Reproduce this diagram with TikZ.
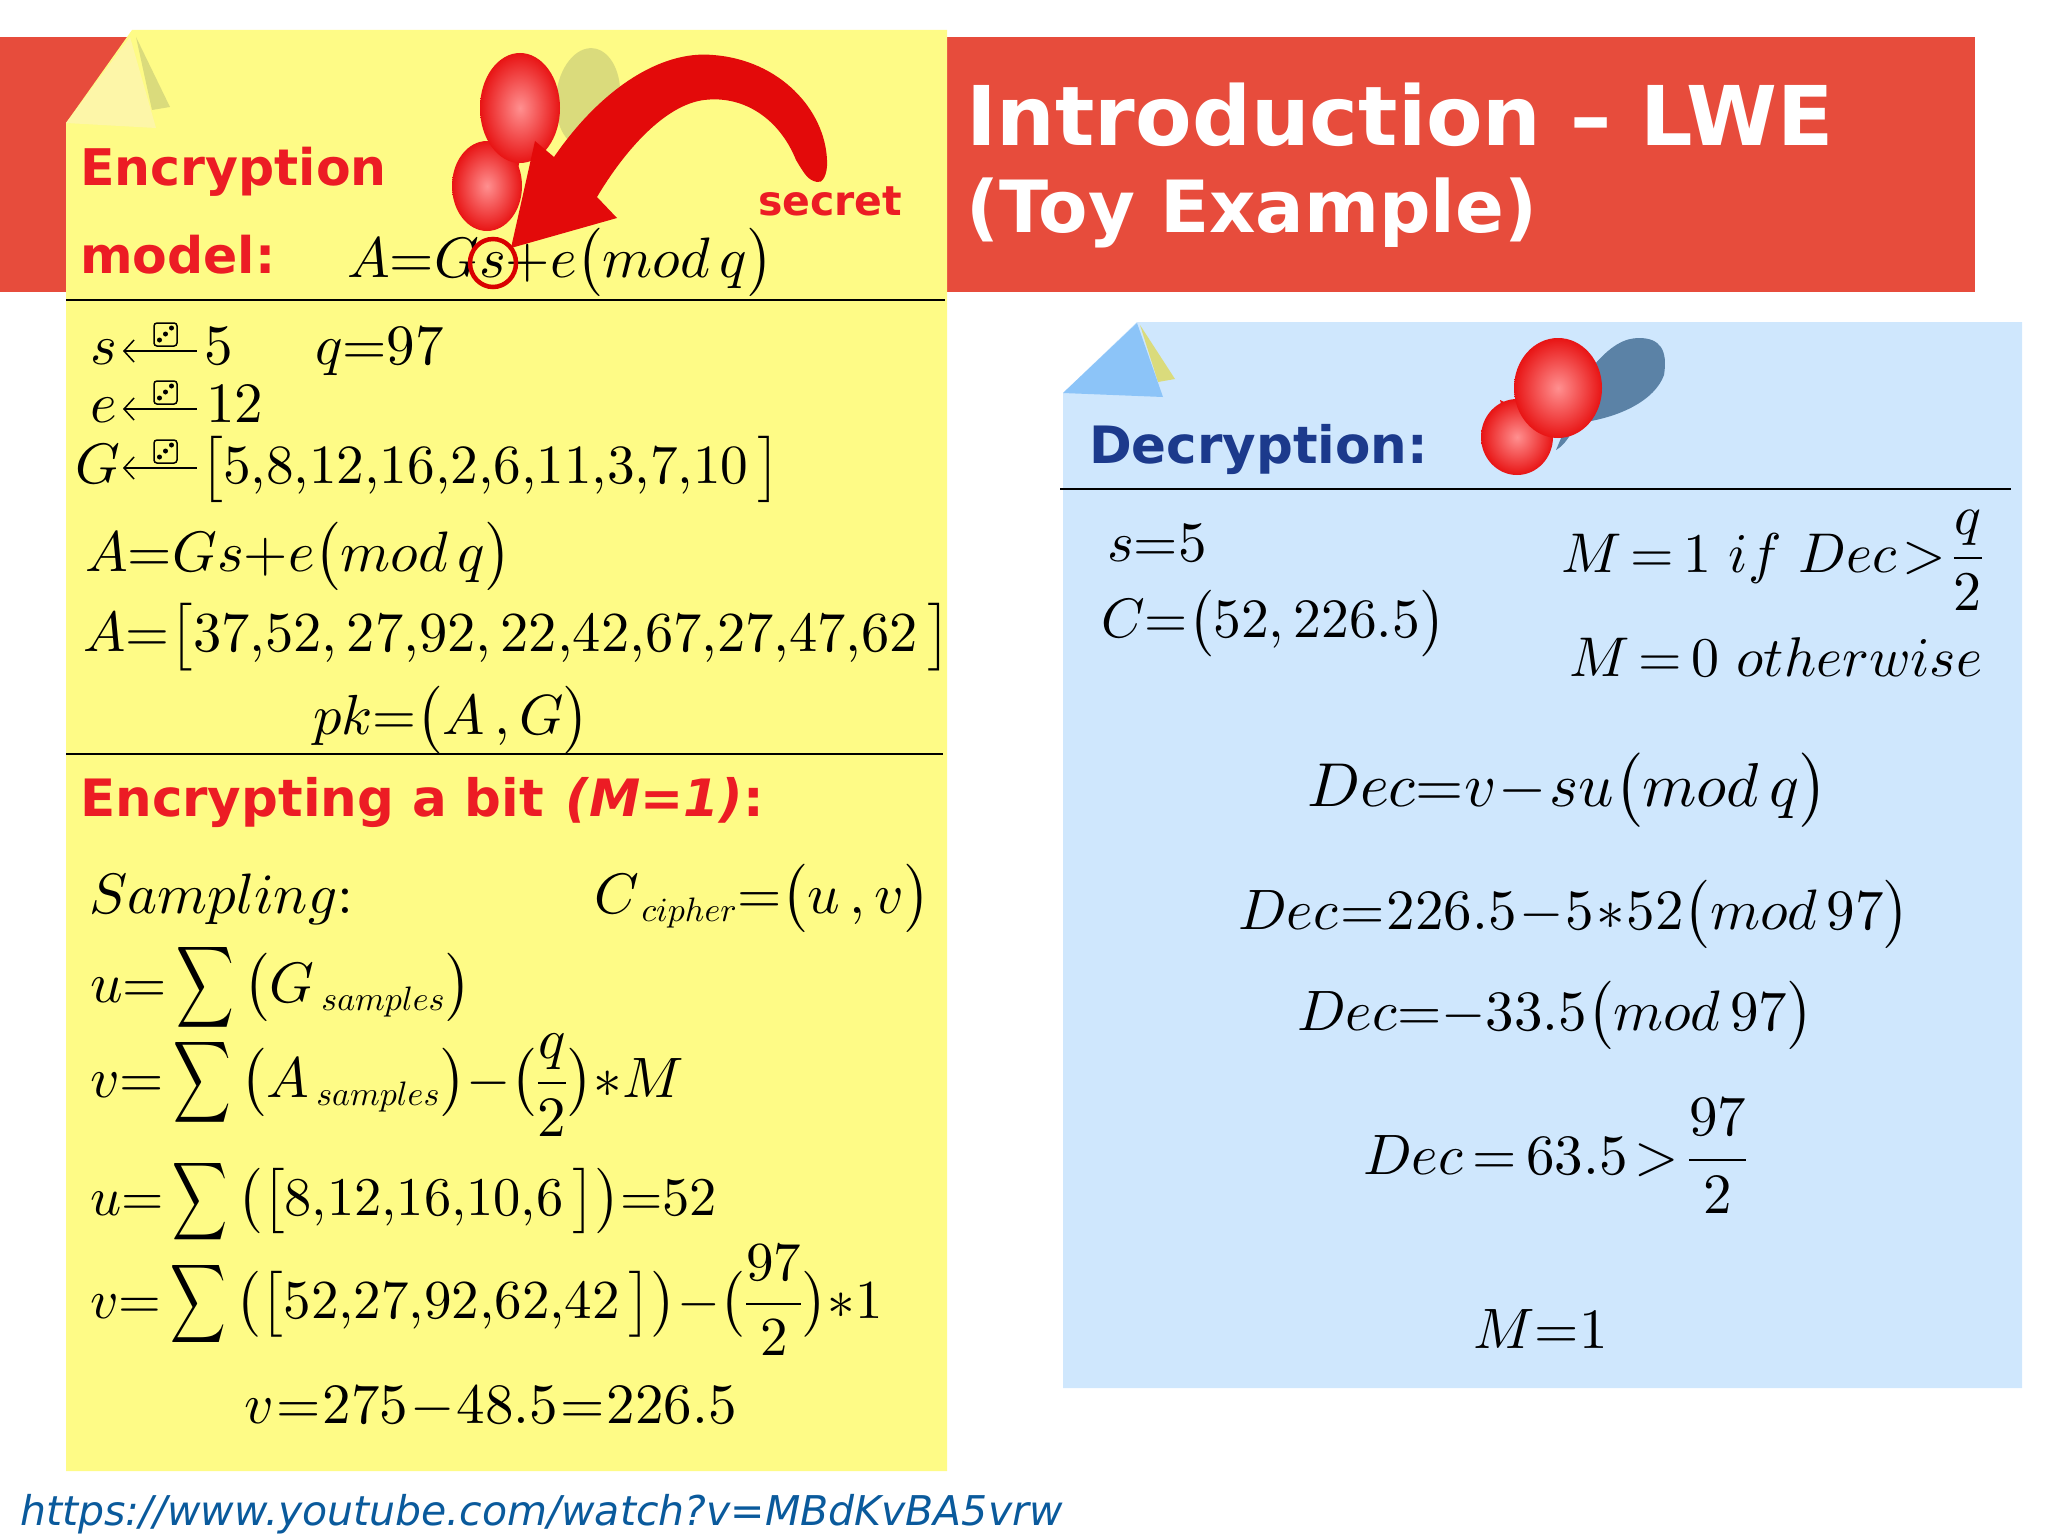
\documentclass[tikz,border=0pt]{standalone}
\usepackage{amsmath}
\usepackage{fix-cm}
\usepackage{fontspec}
\usetikzlibrary{arrows.meta}
\setsansfont{DejaVu Sans}
\DeclareFontShape{OT1}{cmr}{m}{n}{<-> cmr10}{}
\DeclareFontShape{OML}{cmm}{m}{it}{<-> cmmi10}{}
\DeclareFontShape{OMS}{cmsy}{m}{n}{<-> cmsy10}{}
\DeclareFontShape{OMX}{cmex}{m}{n}{<-> cmex10}{}
\definecolor{bannerred}{HTML}{E74C3C}
\definecolor{noteyellow}{HTML}{FEFB86}
\definecolor{foldyellow}{HTML}{FDF6A8}
\definecolor{shadeyellow}{HTML}{DADB7C}
\definecolor{noteblue}{HTML}{CFE7FD}
\definecolor{foldblue}{HTML}{8CC4F8}
\definecolor{shadeblue}{HTML}{5B82A6}
\definecolor{headred}{HTML}{EC1C24}
\definecolor{headblue}{HTML}{1C3A8C}
\definecolor{arrowred}{HTML}{E30A0A}
\definecolor{urlblue}{HTML}{0A5A9C}
\definecolor{blobin}{HTML}{FF9090}
\definecolor{blobout}{HTML}{E81414}
\tikzset{
  eqn/.style={anchor=base west,inner sep=0pt,font=\fontsize{#1}{62}\selectfont},
  eqn/.default=57,
  head/.style={anchor=base west,inner sep=0pt,font=\fontsize{#1}{58}\selectfont\sffamily\bfseries},
  head/.default=50.5,
  titletext/.style={anchor=base west,inner sep=0pt,text=white,font=\fontsize{#1}{90}\selectfont\sffamily\bfseries},
  rule/.style={line width=2.5pt},
  blob/.style={inner color=blobin,outer color=blobout},
}
\newcommand{\bigsum}{\mathop{\scalebox{0.7}[1]{$\displaystyle\sum$}}\mkern3mu}
\newcommand{\subsc}[1]{_{\mkern3mu\scalebox{0.85}{$\scriptstyle #1$}}}
\newcommand{\tg}{\mkern0.7mu}
\begin{document}
\begin{tikzpicture}[x=1pt,y=-1pt]
\useasboundingbox (0,0) rectangle (2048,1536);
% banner
\fill[bannerred] (0,37) rectangle (1975,292);
\node[titletext=82.4] (title1) at (966,146) {Introduction -- LWE};
\node[titletext=72] (title2) at (966,232) {(Toy Example)};
% yellow note
\fill[noteyellow] (66,123)--(132,30)--(947,30)--(947,1471)--(66,1471)--cycle;
\fill[shadeyellow] (136,37)--(170,107)--(152,110)--cycle;
\fill[foldyellow] (66,123)--(130,37)--(156,128)--cycle;
\fill[shadeyellow,rotate around={-6:(588,98)}] (588,98) ellipse (32 and 50);
\fill[blobout] (490,150)--(520,160)--(510,200)--(480,190)--cycle;
\shade[blob] (487,186) ellipse (35 and 45);
\shade[blob] (520,108) ellipse (40 and 55);
\fill[arrowred] (511,248)--(535,141)--(554,157)
  .. controls (600,90) and (660,50) .. (713,55)
  .. controls (780,60) and (825,110) .. (827,160)
  .. controls (828,175) and (822,184) .. (817,182)
  .. controls (808,180) and (805,175) .. (796,160)
  .. controls (780,120) and (745,95) .. (704,100)
  .. controls (665,105) and (625,150) .. (597,197)
  --(617,218)--cycle;
\node[head=41,text=headred] (secret) at (758,215) {secret};
\node[head,text=headred] (enc1) at (80,185) {Encryption};
\node[head,text=headred] (enc2) at (80,273) {model:};
\node[eqn] (model) at (347,277) {$A{=}Gs{+}e\bigl(mod\,q\bigr)$};
\draw[red!85!black,line width=4.5pt] (493,263) ellipse (23 and 24);
\draw[rule] (66,300)--(945,300);
% sampled values
\foreach \y in {334,392,451} {
  \draw[line width=1.5pt,rounded corners=3pt] (154,\y-11) rectangle (177,\y+12);
  \foreach \dx/\dy in {-6/6,0/0,6/-6}
    \fill (165.5+\dx,\y+\dy) circle (2.5);
  \draw[line width=1.3pt,{Straight Barb[length=10pt,width=22pt,line width=1.5pt]}-] (123,\y+17)--(197,\y+17);
}
\node[eqn] (s1) at (90,364) {$s$};
\node[eqn] (s2) at (204,364) {$5$};
\node[eqn] (q1) at (315,364) {$q{=}97$};
\node[eqn] (e1) at (90,422) {$e$};
\node[eqn] (e2) at (206,422) {$12$};
\node[eqn] (g1) at (75,483) {$G$};
\node[eqn=55.3] (g2) at (200,483) {$\bigl[5{,}8{,}12{,}16{,}2{,}6{,}11{,}3{,}7{,}10\,\bigr]$};
\node[eqn] (a1) at (85,571) {$A{=}Gs{+}e\bigl(mod\,q\bigr)$};
\node[eqn=56.5] (a2) at (83,651) {$A{=}\bigl[37{,}52{,}\,27{,}92{,}\,22{,}42{,}67{,}27{,}47{,}62\,\bigr]$};
\node[eqn=56.5] (pk) at (313,734) {$pk{=}\bigl(A\,{,}\,G\bigr)$};
\draw[rule] (66,754)--(943,754);
% encrypting
\node[head=51.5,text=headred] (bit) at (80,816) {Encrypting a bit\hspace{4pt} \textit{(M=1)}:};
\node[eqn] (samp) at (89,913) {$Sampling{:}$};
\node[eqn] (ciph) at (594,913) {$C\subsc{cipher}{=}\bigl(u\,{,}\,v\bigr)$};
\node[eqn] (u1) at (90,1002) {$u{=}\bigsum\bigl(G\subsc{samples}\bigr)$};
\node[eqn] (v1) at (90,1097) {$v{=}\bigsum\bigl(A\subsc{samples}\bigr){-}\bigl(\dfrac{q}{2}\bigr){*}M$};
\node[eqn=54.5] (u2) at (90,1215) {$u{=}\bigsum\bigl(\bigl[8{,}12{,}16{,}10{,}6\,\bigr]\bigr){=}52$};
\node[eqn=55] (v2) at (90,1318) {$v{=}\bigsum\bigl(\bigl[52{,}27{,}92{,}62{,}42\,\bigr]\bigr){-}\bigl(\dfrac{97}{2}\bigr){*}1$};
\node[eqn] (v3) at (244,1423) {$v{\tg=\tg}275{\tg-\tg}48.5{\tg=\tg}226.5$};
\node[anchor=base west,inner sep=0pt,text=urlblue,font=\fontsize{41}{48}\selectfont\sffamily\itshape] (url) at (20,1525) {https://www.youtube.com/watch?v=MBdKvBA5vrw};
% blue note
\fill[noteblue] (1063,393)--(1137,322)--(2022,322)--(2022,1388)--(1063,1388)--cycle;
\fill[shadeyellow] (1140,325)--(1175,379)--(1158,382)--cycle;
\fill[foldblue] (1063,393)--(1137,323)--(1163,397)--cycle;
\fill[shadeblue] (1590,370) .. controls (1610,345) and (1625,338) .. (1639,338)
  .. controls (1660,338) and (1668,350) .. (1664,375)
  .. controls (1655,400) and (1620,418) .. (1578,423)
  .. controls (1570,435) and (1565,445) .. (1556,450)--cycle;
\fill[blobout] (1500,400)--(1540,420)--(1550,450)--(1510,440)--cycle;
\shade[blob] (1517,437) ellipse (36 and 38);
\shade[blob] (1558,388) ellipse (44 and 50);
\node[head=51.5,text=headblue] (dec) at (1089,463) {Decryption:};
\draw[rule] (1060,489)--(2011,489);
\node[eqn] (s3) at (1107,561) {$s{=}5$};
\node[eqn=55.5] (c1) at (1101,637) {$C{=}\bigl(52{,}\,226.5\bigr)$};
\node[eqn=56] (m1) at (1561,572) {$M{\,=\,}1\ if\ Dec\mkern2mu{>}\mkern2mu\dfrac{q}{2}$};
\node[eqn=56] (m2) at (1569,676) {$M{\,=\,}0\ otherwise$};
\node[eqn=62] (d1) at (1307,806) {$Dec{=}v{\tg-\tg}su\bigl(mod\,q\bigr)$};
\node[eqn] (d2) at (1238,929) {$Dec{\tg=\tg}226.5{\tg-\tg}5{\tg*\tg}52\bigl(mod\,97\bigr)$};
\node[eqn] (d3) at (1297,1030) {$Dec{=}{-}33.5\bigl(mod\,97\bigr)$};
\node[eqn] (d4) at (1363,1174) {$Dec\,{=}\,63.5\mkern2mu{>}\mkern3mu\dfrac{97}{2}$};
\node[eqn] (m3) at (1473,1348) {$M{=}1$};
\end{tikzpicture}
\end{document}
